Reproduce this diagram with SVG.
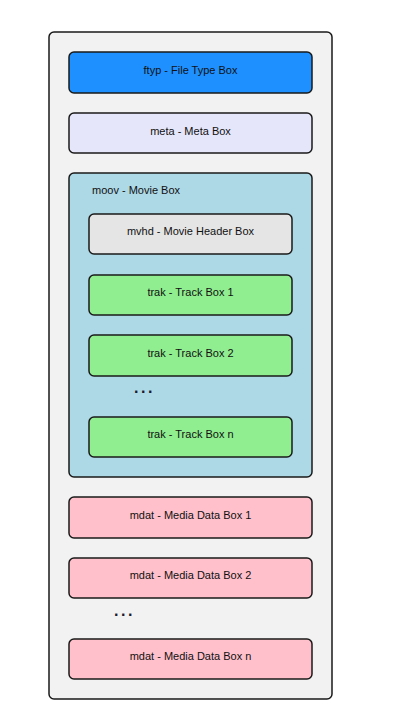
<svg xmlns="http://www.w3.org/2000/svg" width="406" height="725" viewBox="0 0 406 725">
<style>
rect{stroke:#1a1a1a;stroke-width:1.5}
text{font-family:"Liberation Sans",Arial,sans-serif;font-size:11px;fill:#111}
.c{text-anchor:middle}
.dots{font-size:16px;font-weight:bold;fill:#1a1a2e;letter-spacing:2.5px}
</style>
<rect width="406" height="725" fill="#fff" style="stroke:none"/>
<g id="file"><rect x="49" y="32" width="283" height="667" rx="5" fill="#f2f2f2"/></g>
<g id="ftyp"><rect x="69" y="52" width="243" height="41" rx="5" fill="#1e90ff"/><text class="c" x="190.5" y="74">ftyp - File Type Box</text></g>
<g id="meta"><rect x="69" y="113" width="243" height="40" rx="5" fill="#e6e6fa"/><text class="c" x="190.5" y="135">meta - Meta Box</text></g>
<g id="moov"><rect x="69" y="173" width="243" height="304" rx="5" fill="#add8e6"/><text x="92" y="194">moov - Movie Box</text></g>
<g id="mvhd"><rect x="89" y="214" width="203" height="40" rx="5" fill="#e5e5e5"/><text class="c" x="190.5" y="235">mvhd - Movie Header Box</text></g>
<g id="trak1"><rect x="89" y="275" width="203" height="40" rx="5" fill="#90ee90"/><text class="c" x="190.5" y="296">trak - Track Box 1</text></g>
<g id="trak2"><rect x="89" y="335" width="203" height="41" rx="5" fill="#90ee90"/><text class="c" x="190.5" y="357">trak - Track Box 2</text></g>
<text class="dots" x="134" y="393">...</text>
<g id="trakn"><rect x="89" y="417" width="203" height="40" rx="5" fill="#90ee90"/><text class="c" x="190.5" y="438">trak - Track Box n</text></g>
<g id="mdat1"><rect x="69" y="497" width="243" height="41" rx="5" fill="#ffc0cb"/><text class="c" x="190.5" y="519">mdat - Media Data Box 1</text></g>
<g id="mdat2"><rect x="69" y="558" width="243" height="40" rx="5" fill="#ffc0cb"/><text class="c" x="190.5" y="579">mdat - Media Data Box 2</text></g>
<text class="dots" x="114" y="616">...</text>
<g id="mdatn"><rect x="69" y="639" width="243" height="40" rx="5" fill="#ffc0cb"/><text class="c" x="190.5" y="660">mdat - Media Data Box n</text></g>
<g id="connectors"/>
</svg>
